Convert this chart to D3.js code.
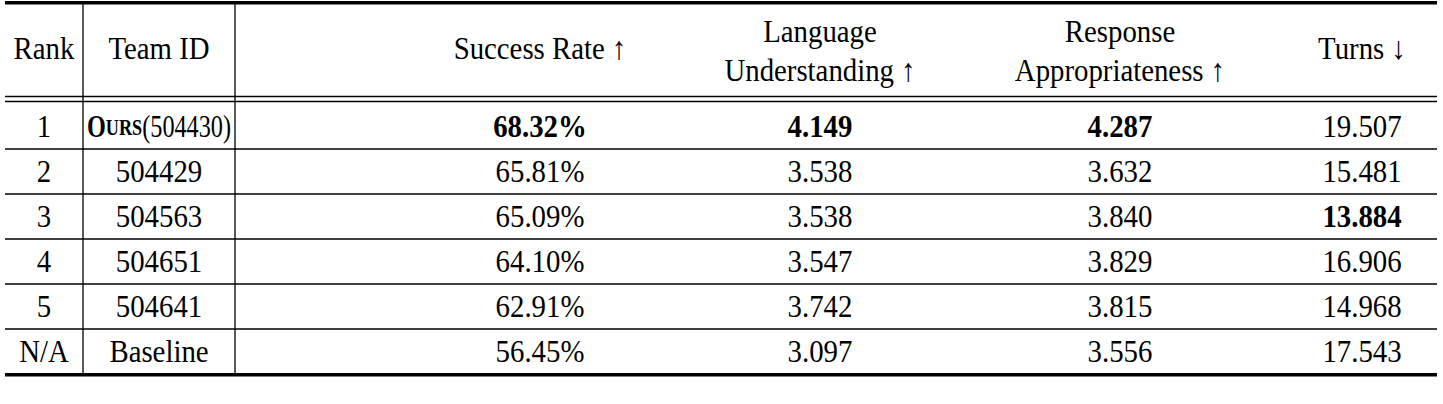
<!DOCTYPE html>
<html><head><meta charset="utf-8">
<script src="https://cdn.jsdelivr.net/npm/d3@7"></script>
<style>body{margin:0;background:#fff}text{font-family:"Liberation Serif","Times New Roman",serif;fill:#000}</style>
</head><body><svg width="1443" height="404"></svg>
<script>
var columns = ['rank','team','success','lang','resp','turns'];
var headers = [['Rank'],['Team ID'],['Success Rate \u2191'],['Language','Understanding \u2191'],['Response','Appropriateness \u2191'],['Turns \u2193']];
var ranks = ['1','2','3','4','5','N/A'];
var teams = ['OURS(504430)','504429','504563','504651','504641','Baseline'];
var success = ['68.32%','65.81%','65.09%','64.10%','62.91%','56.45%'];
var lang = ['4.149','3.538','3.538','3.547','3.742','3.097'];
var resp = ['4.287','3.632','3.840','3.829','3.815','3.556'];
var turns = ['19.507','15.481','13.884','16.906','14.968','17.543'];
// bold cells: [row, col]
var bold = [[0,1],[0,2],[0,3],[0,4],[2,5]];

var svg = d3.select('svg');
var colX = d3.scaleOrdinal().domain(columns).range([44,159,540,820,1120,1362]);
var rowY = d3.scaleBand().domain(d3.range(6)).range([104,374]);
var left = 5, right = 1437, fs = 32, sx = 0.9;

var isBold = function(r,c){ return bold.some(function(b){ return b[0]==r && b[1]==c; }); };

var cellText = function(x,y){
	return svg.append('text').attr('transform','translate('+x+','+y+') scale('+sx+',1)')
		.attr('text-anchor','middle').attr('dominant-baseline','central').attr('font-size',fs);
};

// rules
svg.append('rect').attr('x',left).attr('y',1).attr('width',right-left).attr('height',3.5);
svg.append('rect').attr('x',left).attr('y',373).attr('width',right-left).attr('height',3.5);
[96.5,101.5].forEach(function(y){
	svg.append('line').attr('x1',left).attr('x2',right).attr('y1',y).attr('y2',y).attr('stroke','#000').attr('stroke-width',1.3);
});
d3.range(1,6).forEach(function(i){
	var y = rowY(i);
	svg.append('line').attr('x1',left).attr('x2',right).attr('y1',y).attr('y2',y).attr('stroke','#000').attr('stroke-width',1.3);
});
[83,235].forEach(function(x){
	svg.append('line').attr('x1',x).attr('x2',x).attr('y1',4).attr('y2',373).attr('stroke','#000').attr('stroke-width',1.3);
});

// headers
headers.forEach(function(h,c){
	var ys = h.length == 1 ? [48] : [31,70];
	h.forEach(function(line,k){
		cellText(colX(columns[c]), ys[k]).text(line);
	});
});

// body
var cols = [ranks,teams,success,lang,resp,turns];
d3.range(6).forEach(function(r){
	var cy = rowY(r) + rowY.bandwidth()/2;
	cols.forEach(function(arr,c){
		var t = cellText(colX(columns[c]), cy);
		var v = arr[r];
		if(c==1 && v.indexOf('OURS')==0){
			t.attr('textLength',160).attr('lengthAdjust','spacingAndGlyphs');
			t.append('tspan').attr('font-weight','bold').text('O');
			t.append('tspan').attr('font-weight','bold').attr('font-size',fs*0.75).text('URS');
			t.append('tspan').text(v.slice(4));
		} else {
			t.attr('font-weight', isBold(r,c) ? 'bold' : null).text(v);
		}
	});
});
</script></body></html>
